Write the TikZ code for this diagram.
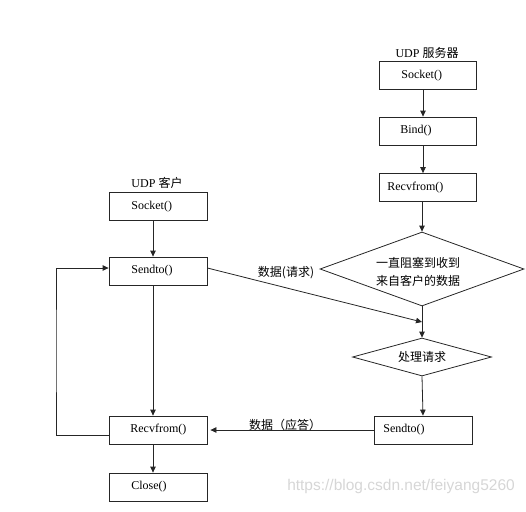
\documentclass[tikz,border=0pt]{standalone}
\usepackage{fontspec}
\setmainfont{Liberation Serif}
\newfontfamily\cjk{Noto Sans CJK SC}
\newfontfamily\wmfont{Liberation Sans}
\usetikzlibrary{shapes.geometric,arrows.meta,calc}
\begin{document}
\begin{tikzpicture}[x=1pt,y=-1pt,
  line width=0.8pt, draw=black!85,
  arr/.style={-{Triangle[length=6pt,width=5.5pt]}},
  cbox/.style={draw, rectangle, minimum width=98pt, minimum height=28pt, inner sep=0pt},
  sbox/.style={draw, rectangle, minimum width=97pt, minimum height=28pt, inner sep=0pt},
  btext/.style={anchor=west, inner sep=0pt, font=\fontsize{12}{14}\selectfont},
  ctext/.style={inner sep=0pt, font=\cjk\fontsize{12}{18}\selectfont, align=center},
  dia/.style={draw, diamond, inner sep=0pt}
]
\useasboundingbox (0,0) rectangle (526,511);
% column coordinates
\coordinate (ccol) at (153,0);
\coordinate (scol) at (423,0);
\coordinate (loopx) at (56,350);

% titles
\node[ctext] (ctitle) at (157,183) {\fontspec{Liberation Serif}UDP \cjk 客户};
\node[ctext] (stitle) at (427,53) {\fontspec{Liberation Serif}UDP \cjk 服务器};

% client boxes
\node[cbox] (csock) at (158,206.5) {};
\node[cbox] (csend) at (158,271) {};
\node[cbox] (crecv) at (158,430) {};
\node[cbox] (cclose) at (158,487) {};
\node[btext] (tcsock) at (131,206.5) {Socket()};
\node[btext] (tcsend) at (131,271) {Sendto()};
\node[btext] (tcrecv) at (130,430) {Recvfrom()};
\node[btext] (tcclose) at (131,487) {Close()};

% server boxes
\node[sbox] (ssock) at (427.5,75.5) {};
\node[sbox] (sbind) at (427.5,131) {};
\node[sbox] (srecv) at (427.5,187.5) {};
\node[cbox] (ssend) at (423,430) {};
\node[btext] (tssock) at (401,75.5) {Socket()};
\node[btext] (tsbind) at (400,131) {Bind()};
\node[btext] (tsrecv) at (387,187.5) {Recvfrom()};
\node[btext] (tssend) at (383,430) {Sendto()};

% diamonds
\node[dia, minimum width=204pt, minimum height=74pt, aspect=2.76] (d1) at (422,269) {};
\node[ctext] (td1) at (418,272) {一直阻塞到收到\\来自客户的数据};
\node[dia, minimum width=139pt, minimum height=38pt, aspect=3.66] (d2) at (422,357) {};
\node[ctext] (td2) at (422,357) {处理请求};

% server arrows
\draw[arr] (ssock.south -| scol) -- (sbind.north -| scol);
\draw[arr] (sbind.south -| scol) -- (srecv.north -| scol);
\draw[arr] (srecv.south -| d1.north) -- (d1.north);
\draw[arr] (d1.south) -- (d2.north);
\draw[arr] (d2.south) -- (ssend.north);
\coordinate (mid) at ($(d1.south)!0.5!(d2.north)$);

% client arrows
\draw[arr] (csock.south -| ccol) -- (csend.north -| ccol);
\draw[arr] (csend.south -| ccol) -- (crecv.north -| ccol);
\draw[arr] (crecv.south -| ccol) -- (cclose.north -| ccol);

% cross arrows
\draw[arr] ([yshift=3pt]csend.east) -- (mid);
\node[ctext] (lreq) at (286,273) {数据(请求)};
\draw[arr] (ssend.west) -- ([xshift=3pt]crecv.east);
\node[ctext] (lresp) at (285,425) {数据（应答）};

% loop
\draw[arr] ([yshift=-5pt]crecv.west) -| (loopx) |- ([yshift=3pt]csend.west);

% watermark
\node[inner sep=0pt, text=black!16, font=\wmfont\fontsize{15.5}{18}\selectfont] (wm) at (401,486) {https://blog.csdn.net/feiyang5260};
\end{tikzpicture}
\end{document}
